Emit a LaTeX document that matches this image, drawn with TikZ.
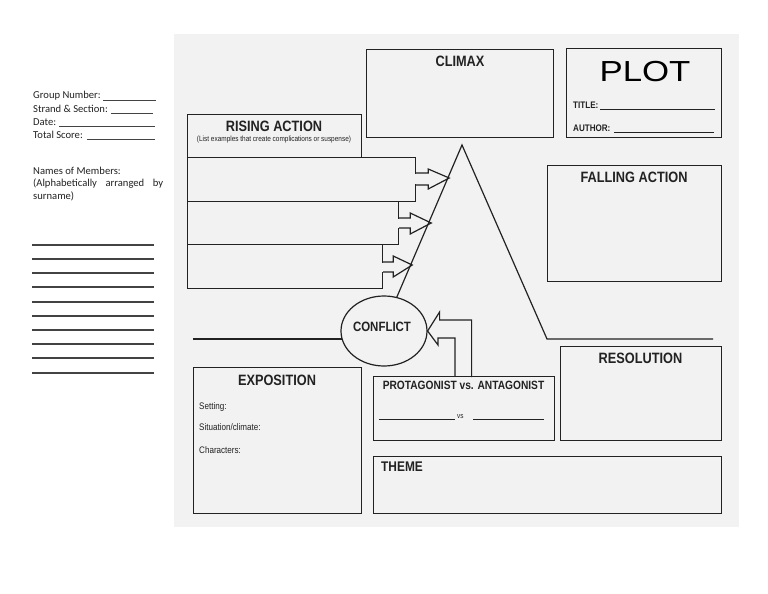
\documentclass[tikz,border=0pt]{standalone}
\usepackage{fontspec}
\setmainfont{Liberation Sans}
\newfontfamily\hd[FakeStretch=0.85]{Liberation Sans}
\newfontfamily\plotfont[FakeStretch=1.2]{Liberation Sans}
\newfontfamily\leftfont{Carlito}
\usetikzlibrary{shapes.geometric,calc}
\definecolor{panel}{HTML}{F2F2F2}
\definecolor{ink}{HTML}{222222}
\begin{document}
\begin{tikzpicture}[x=1pt,y=-1pt,
  box/.style={draw=ink,line width=1.2pt,rectangle,inner sep=0pt,anchor=north west},
  ttl/.style={font=\hd\bfseries\fontsize{15}{18}\selectfont,inner sep=0pt,text=ink},
  small/.style={font=\hd\fontsize{9.5}{11}\selectfont,inner sep=0pt,anchor=base west,text=ink},
  lft/.style={font=\leftfont\fontsize{10.6}{12}\selectfont,inner sep=0pt,anchor=base west,text=ink},
  ln/.style={draw=ink,line width=1.2pt,line join=miter},
  uline/.style={draw=ink!85,line width=1pt},
  fline/.style={draw=ink!85,line width=1.1pt}]
\useasboundingbox (0,0) rectangle (768,594);
\fill[white] (0,0) rectangle (768,594);
\fill[panel] (174,34) rectangle (739,527);

% ---------- left column ----------
\node[lft] (gn) at (33,99) {Group Number:};
\draw[uline] (103,100.5) -- (156,100.5);
\node[lft] (ss) at (33,112) {Strand \& Section:};
\draw[uline] (111,113.5) -- (153,113.5);
\node[lft] (dt) at (33,125) {Date:};
\draw[uline] (59,126.5) -- (155,126.5);
\node[lft] (ts) at (33,138) {Total Score:};
\draw[uline] (87,139.5) -- (155,139.5);
\node[lft] (nm) at (33,174) {Names of Members:};
\node[lft] (al) at (33,186) {\makebox[130pt][s]{(Alphabetically arranged by}};
\node[lft] (sn) at (33,199) {surname)};
\foreach \yy in {245,259,273,287,302,316,330,344,358,373}
  \draw[fline] (32,\yy) -- (154,\yy);

% ---------- boxes ----------
\node[box,minimum width=187pt,minimum height=88pt] (climax) at (366,49) {};
\node[ttl] (climaxt) at (460,61) {CLIMAX};

\node[box,minimum width=155pt,minimum height=89pt] (plot) at (566,48) {};
\node[inner sep=0pt,font=\plotfont\fontsize{29}{30}\selectfont] (plott) at (645,72) {PLOT};
\node[small,font=\hd\bfseries\fontsize{9.5}{11}\selectfont] (titl) at (573,108.5) {TITLE:};
\draw[ln,line width=1pt] (600,109.5) -- (715,109.5);
\node[small,font=\hd\bfseries\fontsize{9.5}{11}\selectfont] (auth) at (573,131.5) {AUTHOR:};
\draw[ln,line width=0.8pt] (614,132.5) -- (714,132.5);

\node[box,minimum width=174pt,minimum height=116pt] (falling) at (547,165) {};
\node[ttl] (fallingt) at (634,177) {FALLING ACTION};

\node[box,minimum width=161pt,minimum height=94pt] (resol) at (560,346) {};
\node[ttl] (resolt) at (640.5,358) {RESOLUTION};

\node[box,minimum width=174pt,minimum height=43pt] (rahead) at (187,114) {};
\node[ttl] (raheadt) at (274,126) {RISING ACTION};
\node[inner sep=0pt,font=\hd\fontsize{7.6}{9}\selectfont,text=ink] (rasub) at (274,139.5) {(List examples that create complications or suspense)};

\node[box,minimum width=228pt,minimum height=44pt] (r1) at (187,157) {};
\node[box,minimum width=211pt,minimum height=43pt] (r2) at (187,201) {};
\node[box,minimum width=195pt,minimum height=44pt] (r3) at (187,244) {};

\node[box,minimum width=168pt,minimum height=146pt] (expo) at (193,367) {};
\node[ttl] (expot) at (277,380.5) {EXPOSITION};
\node[small] (set) at (199,409) {Setting:};
\node[small] (sit) at (199,430) {Situation/climate:};
\node[small] (cha) at (199,453) {Characters:};

\node[box,minimum width=181pt,minimum height=64pt] (prot) at (373,376) {};
\node[ttl,font=\hd\bfseries\fontsize{12}{14}\selectfont] (prott) at (463.5,385) {PROTAGONIST vs. ANTAGONIST};
\draw[ln,line width=0.9pt] (379,419) -- (455,419);
\node[small,font=\hd\fontsize{7.5}{9}\selectfont] (vs) at (457,418.5) {vs};
\draw[ln,line width=0.9pt] (473,419) -- (544,419);

\node[box,minimum width=348pt,minimum height=57pt] (theme) at (373,456) {};
\node[ttl,font=\hd\bfseries\fontsize{14}{16}\selectfont,anchor=west] (themet) at (381,467) {THEME};

% ---------- plot line ----------
\coordinate (apex) at (462,145);
\coordinate (tr) at (547,339);
\coordinate (rend) at (713,339);
\coordinate (lstart) at (193,339);
\draw[ln] (391.3,310) -- (apex) -- (tr) -- (rend);
\draw[ln] (lstart) -- (384,339);
\node[draw=ink,line width=1.2pt,ellipse,fill=panel,minimum width=86pt,minimum height=70pt,inner sep=0pt] (conflict) at (384,331) {};
\node[ttl,font=\hd\bfseries\fontsize{13.5}{15}\selectfont] (conflictt) at (382,327) {CONFLICT};

% ---------- arrow callouts ----------
\fill[panel] ($(r1.north east)+(-0.8,16.6)$) rectangle ++(1.6,10.8);
\draw[ln] ($(r1.north east)+(0,16)$) -- ++(12,0) -- ++(0,-4) -- ++(21,9) -- ++(-21,11) -- ++(0,-4) -- ++(-12,0);
\fill[panel] ($(r2.north east)+(-0.8,17.6)$) rectangle ++(1.6,9.8);
\draw[ln] ($(r2.north east)+(0,17)$) -- ++(11,0) -- ++(0,-5) -- ++(21,10) -- ++(-21,11) -- ++(0,-6) -- ++(-11,0);
\fill[panel] ($(r3.north east)+(-0.8,18.6)$) rectangle ++(1.6,9.8);
\draw[ln] ($(r3.north east)+(0,18)$) -- ++(10,0) -- ++(0,-6) -- ++(19,9) -- ++(-19,12) -- ++(0,-5) -- ++(-10,0);

% conflict arrow
\draw[ln] ($(prot.north west)+(82,0)$) -- ++(0,-38) -- ++(-17,0) -- ++(0,7) -- (conflict.east) -- ++(12,-19) -- ++(0,8) -- ++(32,0) -- ++(0,57);
\end{tikzpicture}
\end{document}
